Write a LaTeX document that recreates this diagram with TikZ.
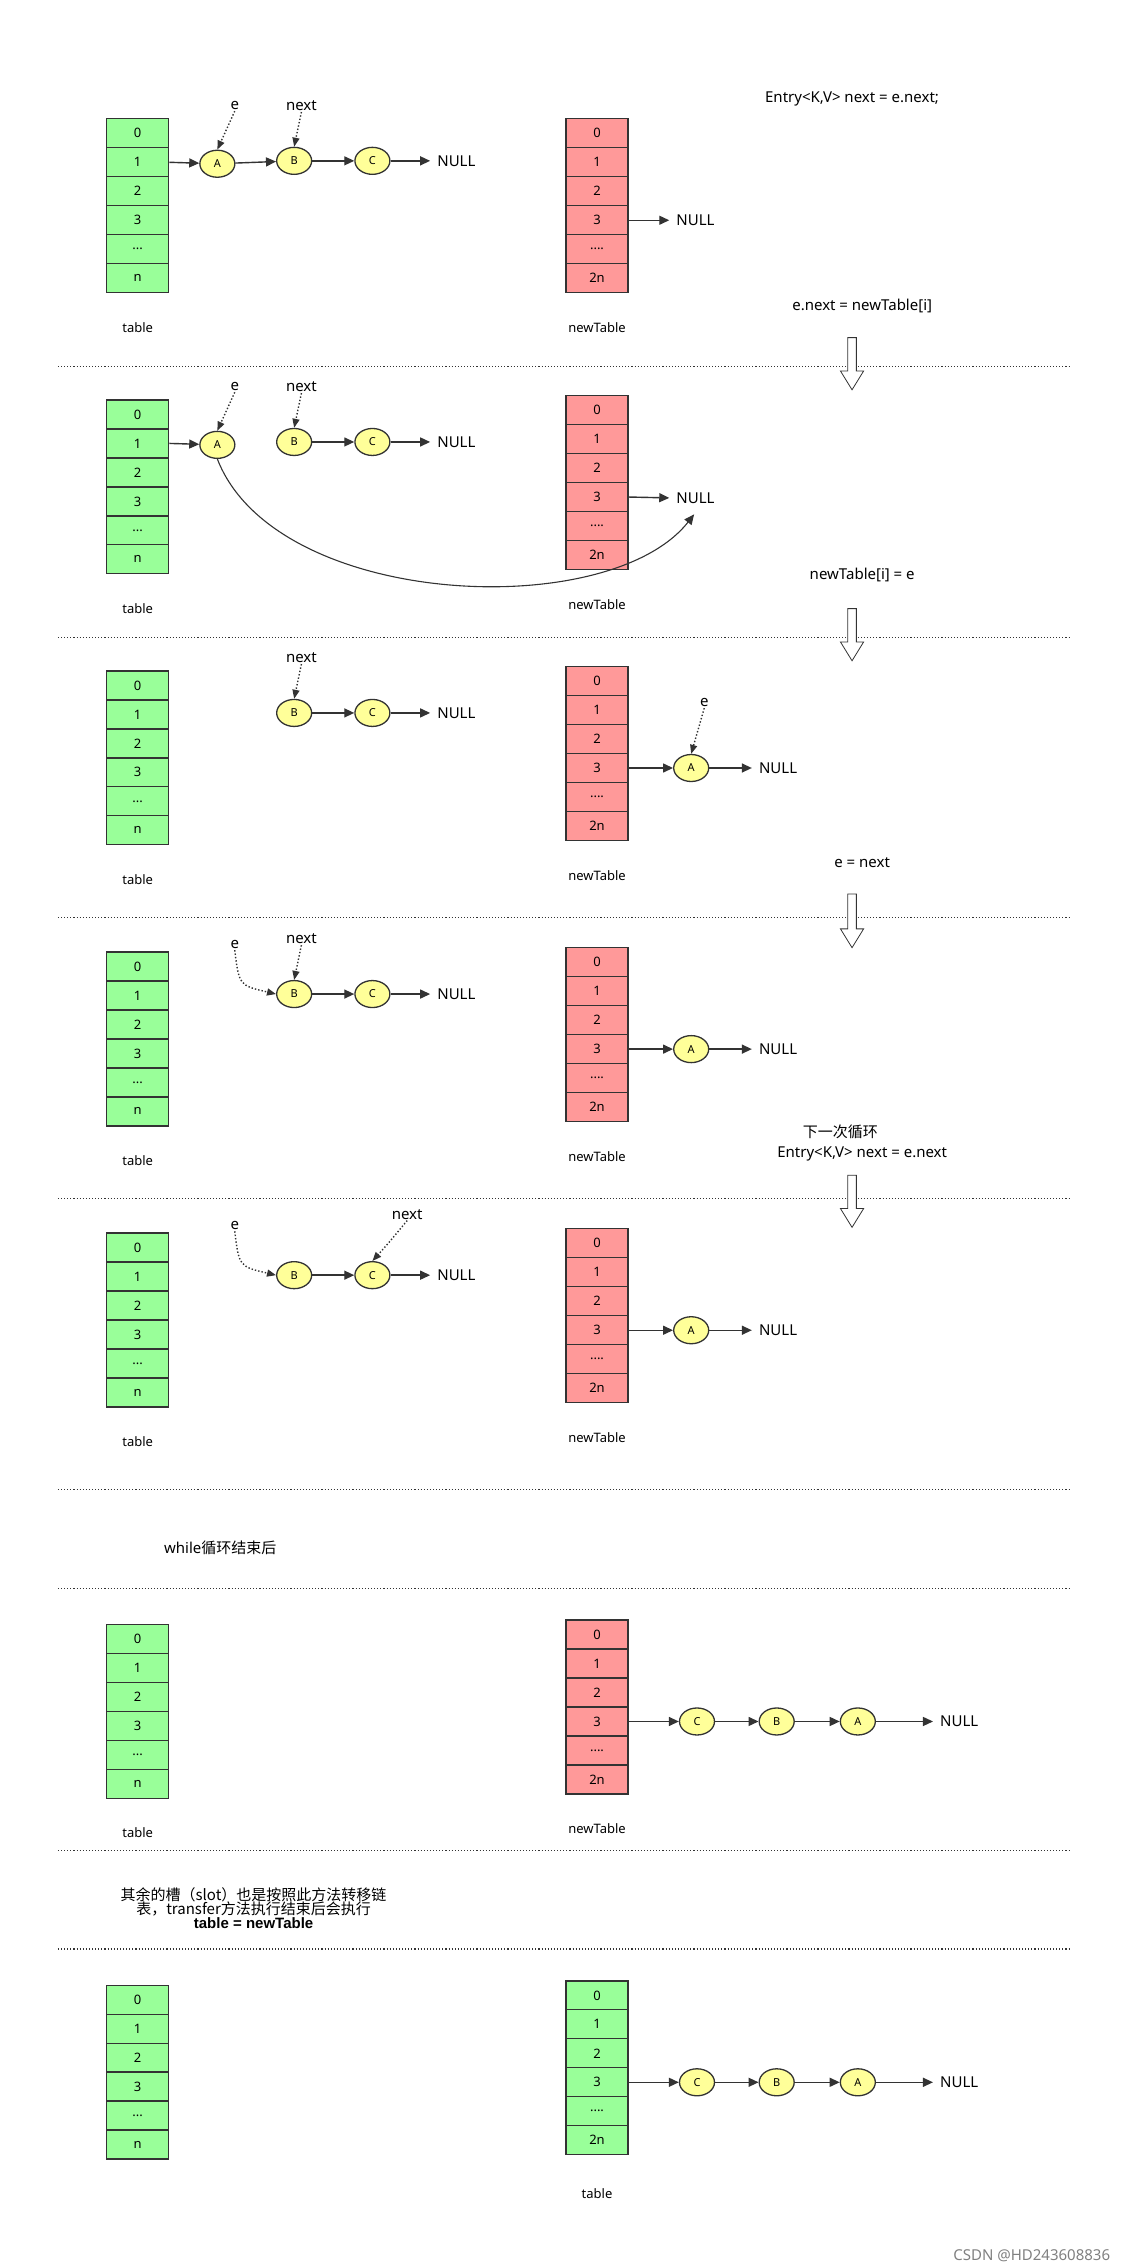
\documentclass[tikz,border=0pt]{standalone}
\usepackage{fontspec}
\setmainfont{Noto Sans}
\newfontfamily\cjk{Noto Sans CJK SC}
\newfontfamily\libsans{Liberation Sans}
\usetikzlibrary{shapes.geometric,arrows.meta}
\definecolor{grn}{HTML}{99FF99}
\definecolor{red}{HTML}{FF9999}
\definecolor{yel}{HTML}{FFFF99}
\definecolor{ink}{HTML}{333333}
\tikzset{
 cell/.style={draw=ink,line width=1.3pt,minimum width=62pt,minimum height=29pt,inner sep=0,font=\fontsize{13}{13}\selectfont},
 ent/.style={ellipse,draw=ink,line width=1.3pt,fill=yel,minimum width=35pt,minimum height=27pt,inner sep=0,font=\fontsize{11}{11}\selectfont},
 lab/.style={font=\fontsize{15}{15}\selectfont,inner sep=1pt},
 small/.style={font=\fontsize{13}{13}\selectfont},
 ar/.style={draw=ink,line width=1.4pt,-{Triangle[length=10pt,width=9pt]}},
 arn/.style={ar,shorten >=6pt},
 ptr/.style={draw=ink,line width=1.4pt,dotted,-{Triangle[length=9pt,width=7pt]}},
 sep/.style={draw=ink,line width=1.1pt,dotted},
 bigarr/.style={draw=ink,line width=0.8pt,fill=white},
}
\newcommand\mkarr[6]{% prefix, xcenter, ytop, fill, dots, last
 \foreach \i/\l in {0/0,1/1,2/2,3/3,4/{#5},5/{#6}}
  \node[cell,fill=#4] (#1\i) at (#2,{#3+10+20*\i}) {\l};}
\newcommand\downarr[2]{% y top, y bottom
 \draw[bigarr] (585,#1)--(591,#1)--(591,{#2-13})--(596,{#2-13})--(588,#2)--(580,{#2-13})--(585,{#2-13})--cycle;}
\begin{document}
\begin{tikzpicture}[x=1.449pt,y=-1.449pt]
\useasboundingbox (0,0) rectangle (779.9,1563.1);
% ---------- panel 1
\mkarr{ta}{95}{82}{grn}{...}{n}
\mkarr{na}{412}{82}{red}{....}{2n}
\node[small] (tla) at (95,226) {table};
\node[small] (nla) at (412,226) {newTable};
\node[ent] (aA) at (150,113) {A};
\node[ent] (aB) at (203,111) {B};
\node[ent] (aC) at (257,111) {C};
\node[lab,anchor=west] (aN) at (301,111) {NULL};
\node[lab,anchor=west] (aN2) at (466,152) {NULL};
\node[lab] (ae) at (162,73) {e};
\node[lab] (anx) at (208,73) {next};
\draw[ar] (ta1.east) -- (aA);
\draw[ar] (aA) -- (aB);
\draw[ar] (aB) -- (aC);
\draw[arn] (aC) -- (aN);
\draw[arn] (na3.east) -- (aN2);
\draw[ptr] (ae.south) -- (aA.north);
\draw[ptr] (anx.south) -- (aB.north);
\node[lab] (t1) at (588,68) {Entry<K,V> next = e.next;};
\node[lab] (t2) at (595,211) {e.next = newTable[i]};
\draw[sep] (40,253) -- (738,253);
\downarr{233}{269}
% ---------- panel 2
\mkarr{tb}{95}{276}{grn}{...}{n}
\mkarr{nb}{412}{273}{red}{....}{2n}
\node[small] (tlb) at (95,420) {table};
\node[small] (nlb) at (412,417) {newTable};
\node[ent] (bA) at (150,307) {A};
\node[ent] (bB) at (203,305) {B};
\node[ent] (bC) at (257,305) {C};
\node[lab,anchor=west] (bN) at (301,305) {NULL};
\node[lab,anchor=west] (bN2) at (466,344) {NULL};
\node[lab] (be) at (162,267) {e};
\node[lab] (bnx) at (208,267) {next};
\coordinate (bend) at (479,355);
\draw[ar] (tb1.east) -- (bA);
\draw[ar] (bB) -- (bC);
\draw[arn] (bC) -- (bN);
\draw[arn] (nb3.east) -- (bN2);
\draw[ptr] (be.south) -- (bA.north);
\draw[ptr] (bnx.south) -- (bB.north);
\draw[ar,line width=1.1pt] (bA.south) .. controls (190,420) and (420,430) .. (bend);
\node[lab] (t3) at (595,397) {newTable[i] = e};
\draw[sep] (40,440) -- (738,440);
\downarr{420}{456}
% ---------- panel 3
\mkarr{tc}{95}{463}{grn}{...}{n}
\mkarr{nc}{412}{460}{red}{....}{2n}
\node[small] (tlc) at (95,607) {table};
\node[small] (nlc) at (412,604) {newTable};
\node[ent] (cB) at (203,492) {B};
\node[ent] (cC) at (257,492) {C};
\node[lab,anchor=west] (cN) at (301,492) {NULL};
\node[lab] (cnx) at (208,454) {next};
\node[ent] (cA) at (477,530) {A};
\node[lab,anchor=west] (cN2) at (523,530) {NULL};
\node[lab] (ce) at (486,485) {e};
\draw[ar] (cB) -- (cC);
\draw[arn] (cC) -- (cN);
\draw[ptr] (cnx.south) -- (cB.north);
\draw[ar] (nc3.east) -- (cA);
\draw[arn] (cA) -- (cN2);
\draw[ptr] (ce.south) -- (cA.north);
\node[lab] (t4) at (595,595) {e = next};
\draw[sep] (40,633) -- (738,633);
\downarr{617}{654}
% ---------- panel 4
\mkarr{td}{95}{657}{grn}{...}{n}
\mkarr{nd}{412}{654}{red}{....}{2n}
\node[small] (tld) at (95,801) {table};
\node[small] (nld) at (412,798) {newTable};
\node[ent] (dB) at (203,686) {B};
\node[ent] (dC) at (257,686) {C};
\node[lab,anchor=west] (dN) at (301,686) {NULL};
\node[lab] (dnx) at (208,648) {next};
\node[lab] (de) at (162,652) {e};
\node[ent] (dA) at (477,724) {A};
\node[lab,anchor=west] (dN2) at (523,724) {NULL};
\draw[ar] (dB) -- (dC);
\draw[arn] (dC) -- (dN);
\draw[ptr] (dnx.south) -- (dB.north);
\draw[ptr] (de.south) .. controls (165,680) .. (dB.west);
\draw[ar] (nd3.east) -- (dA);
\draw[arn] (dA) -- (dN2);
\node[lab] (t5) at (580,781) {\cjk 下一次循环};
\node[lab] (t6) at (595,796) {Entry<K,V> next = e.next};
\draw[sep] (40,827) -- (738,827);
\downarr{811}{847}
% ---------- panel 5
\mkarr{te}{95}{851}{grn}{...}{n}
\mkarr{ne}{412}{848}{red}{....}{2n}
\node[small] (tle) at (95,995) {table};
\node[small] (nle) at (412,992) {newTable};
\node[ent] (eB) at (203,880) {B};
\node[ent] (eC) at (257,880) {C};
\node[lab,anchor=west] (eN) at (301,880) {NULL};
\node[lab] (enx) at (281,838) {next};
\node[lab] (ee) at (162,846) {e};
\node[ent] (eA) at (477,918) {A};
\node[lab,anchor=west] (eN2) at (523,918) {NULL};
\draw[ar] (eB) -- (eC);
\draw[arn] (eC) -- (eN);
\draw[ptr] (enx.south) .. controls (268,858) .. (eC.north);
\draw[ptr] (ee.south) .. controls (165,874) .. (eB.west);
\draw[ar] (ne3.east) -- (eA);
\draw[arn] (eA) -- (eN2);
\draw[sep] (40,1028) -- (738,1028);
\node[lab] (t7) at (152,1068) {while{\cjk 循环结束后}};
\draw[sep] (40,1096) -- (738,1096);
% ---------- panel 6
\mkarr{tf}{95}{1121}{grn}{...}{n}
\mkarr{nf}{412}{1118}{red}{....}{2n}
\node[small] (tlf) at (95,1265) {table};
\node[small] (nlf) at (412,1262) {newTable};
\node[ent] (fC) at (481,1188) {C};
\node[ent] (fB) at (536,1188) {B};
\node[ent] (fA) at (592,1188) {A};
\node[lab,anchor=west] (fN) at (648,1188) {NULL};
\draw[ar] (nf3.east) -- (fC);
\draw[ar] (fC) -- (fB);
\draw[ar] (fB) -- (fA);
\draw[arn] (fA) -- (fN);
\draw[sep] (40,1277) -- (738,1277);
\node[lab,align=center] (t8) at (175,1317) {{\cjk 其余的槽（slot）也是按照此方法转移链}\\[-1pt]{\cjk 表，transfer方法执行结束后会执行}\\[-1pt]{\libsans\bfseries table = newTable}};
\draw[sep] (40,1345) -- (738,1345);
% ---------- panel 7
\mkarr{tg}{95}{1370}{grn}{...}{n}
\mkarr{ng}{412}{1367}{grn}{....}{2n}
\node[small] (nlg) at (412,1514) {table};
\node[ent] (gC) at (481,1437) {C};
\node[ent] (gB) at (536,1437) {B};
\node[ent] (gA) at (592,1437) {A};
\node[lab,anchor=west] (gN) at (648,1437) {NULL};
\draw[ar] (ng3.east) -- (gC);
\draw[ar] (gC) -- (gB);
\draw[ar] (gB) -- (gA);
\draw[arn] (gA) -- (gN);
\node[font=\fontsize{15}{15}\selectfont,text=gray] (wm) at (712,1557) {CSDN @HD243608836};
\end{tikzpicture}
\end{document}
